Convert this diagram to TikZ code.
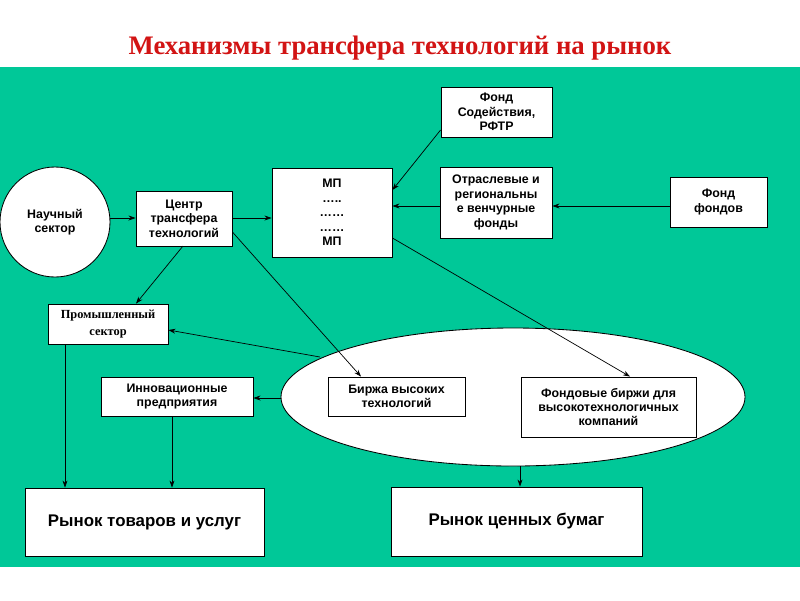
\documentclass[tikz,border=0pt]{standalone}
\usepackage{fontspec}
\setmainfont{Liberation Sans}
\newfontfamily\tnr{Liberation Serif}
\usetikzlibrary{arrows.meta,shapes.geometric}
\definecolor{bg}{RGB}{0,200,152}
\definecolor{ttl}{RGB}{210,20,20}
\begin{document}
\begin{tikzpicture}[x=0.025cm,y=-0.025cm,
  bx/.style={draw=black,fill=white,line width=0.6pt,inner sep=1pt,align=center,font=\bfseries\fontsize{8.8}{10.3}\selectfont},
  ar/.style={-{Stealth[length=5pt,width=3.5pt]},line width=0.5pt}]
\useasboundingbox (0,0) rectangle (800,600);
\fill[white] (0,0) rectangle (800,600);
\fill[bg] (0,67) rectangle (800,567);
\node[text=ttl,font=\tnr\bfseries\fontsize{19}{22}\selectfont] (title) at (400,48) {Механизмы трансфера технологий на рынок};
\node[draw,fill=white,circle,line width=0.6pt,minimum size=110*0.025cm,align=center,font=\bfseries\fontsize{8.8}{10.3}\selectfont] (ns) at (55,222) {Научный\\сектор};
\node[bx,minimum width=96*0.025cm,minimum height=55*0.025cm] (ct) at (184,218.5) {Центр\\трансфера\\технологий};
\node[bx,minimum width=120*0.025cm,minimum height=89*0.025cm] (mp) at (332,212.5) {МП\\…..\\……\\……\\МП};
\node[bx,minimum width=111*0.025cm,minimum height=50*0.025cm] (fs) at (496.5,112) {Фонд\\Содействия,\\РФТР};
\node[bx,minimum width=112*0.025cm,minimum height=71*0.025cm] (ot) at (496,202.5) {Отраслевые и\\региональны\\е венчурные\\фонды};
\node[bx,minimum width=97*0.025cm,minimum height=50*0.025cm] (ff) at (718.5,202) {Фонд\\фондов};
\node[bx,font=\tnr\bfseries\fontsize{8.8}{12}\selectfont,minimum width=120*0.025cm,minimum height=40*0.025cm] (ps) at (108,324) {Промышленный\\сектор};
\node[draw,fill=white,ellipse,line width=0.6pt,minimum width=464*0.025cm,minimum height=138*0.025cm] (el) at (513,397) {};
\node[bx,minimum width=152*0.025cm,minimum height=39*0.025cm] (in) at (177,396.5) {Инновационные\\предприятия};
\node[bx,minimum width=137*0.025cm,minimum height=39*0.025cm] (bv) at (396.5,396.5) {Биржа высоких\\технологий};
\node[bx,minimum width=175*0.025cm,minimum height=60*0.025cm] (fb) at (608.5,407) {Фондовые биржи для\\высокотехнологичных\\компаний};
\node[bx,font=\bfseries\fontsize{12}{14}\selectfont,minimum width=239*0.025cm,minimum height=68*0.025cm] (rt) at (144.5,522) {Рынок товаров и услуг};
\node[bx,font=\bfseries\fontsize{12}{14}\selectfont,minimum width=251*0.025cm,minimum height=69*0.025cm] (rc) at (516.5,521.5) {Рынок ценных бумаг};
\draw[ar] (ns.east |- 0,218) -- (ct.west |- 0,218);
\draw[ar] (ct.east |- 0,218) -- (mp.west |- 0,218);
\draw[ar] (fs.west |- 0,130) -- (mp.east |- 0,190);
\draw[ar] (ot.west |- 0,206) -- (mp.east |- 0,206);
\draw[ar] (ff.west |- 0,206) -- (ot.east |- 0,206);
\draw[ar] (183,246) -- (ps.north -| 136,0);
\draw[ar] (ct.east |- 0,232) -- (bv.north -| 361,0);
\draw[ar] (mp.east |- 0,238) -- (fb.north -| 630,0);
\draw[ar] (320,357) -- (ps.east |- 0,330);
\draw[ar] (el.west |- 0,398) -- (in.east |- 0,398);
\draw[ar] (ps.south -| 65,0) -- (rt.north -| 65,0);
\draw[ar] (in.south -| 172,0) -- (rt.north -| 172,0);
\draw[ar] (el.south -| 520,0) -- (rc.north -| 520,0);
\end{tikzpicture}
\end{document}
